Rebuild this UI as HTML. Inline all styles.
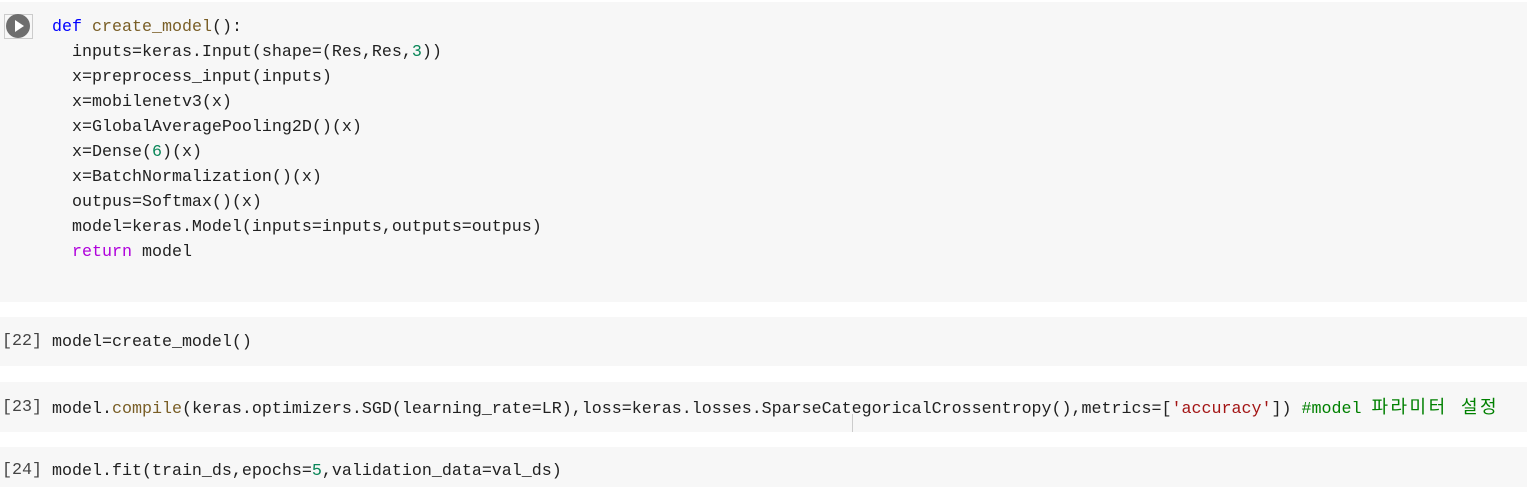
<!DOCTYPE html>
<html><head><meta charset="utf-8"><style>
body{margin:0;width:1527px;height:487px;background:#fff;position:relative;overflow:hidden;font-family:"Liberation Mono","Noto Sans CJK KR",monospace;font-size:16.67px;color:#212121}
.cell{position:absolute;left:0;width:1527px;background:#f7f7f7}
.l{position:absolute;white-space:pre;line-height:20px}
.k{color:#0000ff}.f{color:#795e26}.n{color:#098658}.s{color:#a31515}.c{color:#008000}.r{color:#af00db}
.p{position:absolute;left:2px;color:#444;white-space:pre;line-height:20px}
.kr{letter-spacing:2.5px;font-size:18px}
</style></head><body>
<div class="cell" style="top:2px;height:300px"></div>
<div class="cell" style="top:317px;height:49px"></div>
<div class="cell" style="top:382px;height:50px"></div>
<div class="cell" style="top:447px;height:40px"></div>
<svg style="position:absolute;left:4px;top:12px" width="30" height="30"><rect x="0.5" y="2.5" width="28" height="24" fill="none" stroke="#ccc"/><circle cx="14" cy="14" r="12" fill="#6e6e6e"/><polygon points="11,8 11,20 20,14" fill="#fff"/></svg>
<div class="l" style="left:52px;top:18px"><span class="k">def</span> <span class="f">create_model</span>():</div>
<div class="l" style="left:52px;top:43px">  inputs=keras.Input(shape=(Res,Res,<span class="n">3</span>))</div>
<div class="l" style="left:52px;top:68px">  x=preprocess_input(inputs)</div>
<div class="l" style="left:52px;top:93px">  x=mobilenetv3(x)</div>
<div class="l" style="left:52px;top:118px">  x=GlobalAveragePooling2D()(x)</div>
<div class="l" style="left:52px;top:143px">  x=Dense(<span class="n">6</span>)(x)</div>
<div class="l" style="left:52px;top:168px">  x=BatchNormalization()(x)</div>
<div class="l" style="left:52px;top:193px">  outpus=Softmax()(x)</div>
<div class="l" style="left:52px;top:218px">  model=keras.Model(inputs=inputs,outputs=outpus)</div>
<div class="l" style="left:52px;top:243px">  <span class="r">return</span> model</div>
<div class="p" style="top:332px">[22]</div>
<div class="l" style="left:52px;top:333px">model=create_model()</div>
<div class="p" style="top:398px">[23]</div>
<div class="l" style="left:52px;top:399px">model.<span class="f">compile</span>(keras.optimizers.SGD(learning_rate=LR),loss=keras.losses.SparseCategoricalCrossentropy(),metrics=[<span class="s">'accuracy'</span>]) <span class="c">#model <span class="kr">파라미터 설정</span></span></div>
<div style="position:absolute;left:852px;top:414px;width:1px;height:18px;background:#ccc"></div>
<div class="p" style="top:461px">[24]</div>
<div class="l" style="left:52px;top:462px">model.fit(train_ds,epochs=<span class="n">5</span>,validation_data=val_ds)</div>
</body></html>
